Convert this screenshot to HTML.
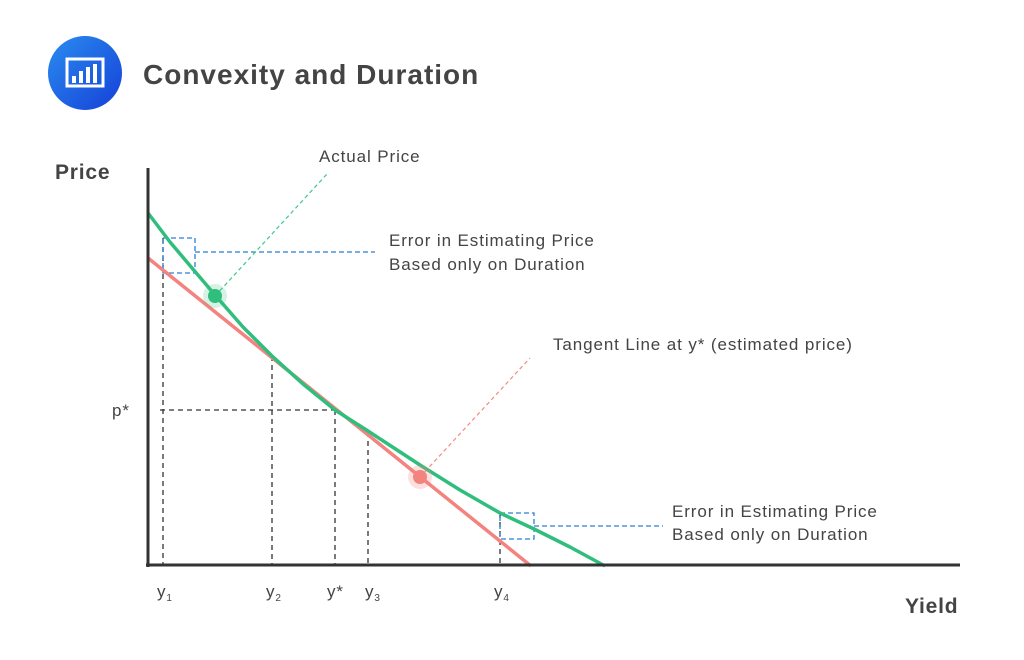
<!DOCTYPE html>
<html><head><meta charset="utf-8"><style>
html,body{margin:0;padding:0;background:#fff;}
svg{display:block;}
text{font-family:"Liberation Sans",sans-serif;fill:#444;}
</style></head><body>
<svg width="1024" height="660" viewBox="0 0 1024 660" xmlns="http://www.w3.org/2000/svg">
<defs>
<linearGradient id="g" x1="0" y1="0" x2="1" y2="1">
<stop offset="0" stop-color="#2a8cf0"/><stop offset="1" stop-color="#1540d8"/>
</linearGradient>
</defs>
<circle cx="85" cy="73" r="37" fill="url(#g)"/>
<rect x="67" y="59" width="36" height="27" fill="none" stroke="#fff" stroke-width="3"/>
<rect x="72" y="76" width="4" height="7" fill="#fff"/>
<rect x="79" y="71" width="4" height="12" fill="#fff"/>
<rect x="86" y="67" width="4" height="16" fill="#fff"/>
<rect x="93" y="64" width="4" height="19" fill="#fff"/>
<text x="143" y="84" font-size="28" font-weight="bold" letter-spacing="1" fill="#444">Convexity and Duration</text>

<text x="55" y="179" font-size="21" font-weight="bold" letter-spacing="0.8">Price</text>
<text x="905" y="613" font-size="21" font-weight="bold" letter-spacing="0.8">Yield</text>

<g stroke="#333" stroke-width="1.3" stroke-dasharray="5,4" fill="none">
<line x1="163" y1="238" x2="163" y2="565"/>
<line x1="272" y1="356" x2="272" y2="565"/>
<line x1="335" y1="410" x2="335" y2="565"/>
<line x1="368" y1="432" x2="368" y2="565"/>
<line x1="500" y1="513" x2="500" y2="565"/>
<line x1="160" y1="410" x2="335" y2="410"/>
</g>
<g stroke="#2a7fd4" stroke-width="1.3" stroke-dasharray="5,3" fill="none">
<rect x="163" y="238" width="32" height="35"/>
<line x1="195" y1="252" x2="375" y2="252"/>
<rect x="500" y="513" width="34" height="26"/>
<line x1="534" y1="526" x2="663" y2="526"/>
</g>
<line x1="215" y1="296" x2="327" y2="174" stroke="#3cc98a" stroke-width="1.2" stroke-dasharray="4,3"/>
<line x1="420" y1="477" x2="530" y2="358" stroke="#f38a85" stroke-width="1.2" stroke-dasharray="4,3"/>

<line x1="148" y1="258" x2="531" y2="566" stroke="#f3837f" stroke-width="3.5"/>
<polyline fill="none" stroke="#2fbe7c" stroke-width="3.5" stroke-linejoin="round"
points="148,213 170,242 192,268 215,295 243,327 272,356 303,384 335,410 368,431 394,448 420,465 460,490 500,513 534,529 570,547 605,566"/>

<circle cx="215" cy="296" r="12" fill="#2fbe7c" opacity="0.2"/>
<circle cx="215" cy="296" r="7" fill="#2fbe7c"/>
<circle cx="420" cy="477" r="12" fill="#f3837f" opacity="0.25"/>
<circle cx="420" cy="477" r="7" fill="#f3837f"/>

<line x1="148" y1="168" x2="148" y2="567" stroke="#333" stroke-width="3"/>
<line x1="146" y1="565" x2="960" y2="565" stroke="#333" stroke-width="3"/>

<g font-size="17" letter-spacing="0.9">
<text x="319" y="162">Actual Price</text>
<text x="389" y="246">Error in Estimating Price</text>
<text x="389" y="270">Based only on Duration</text>
<text x="553" y="350">Tangent Line at y* (estimated price)</text>
<text x="672" y="517">Error in Estimating Price</text>
<text x="672" y="540">Based only on Duration</text>
<text x="112" y="416">p*</text>
<text x="157" y="597">y<tspan font-size="10" dy="4">1</tspan></text>
<text x="266" y="597">y<tspan font-size="10" dy="4">2</tspan></text>
<text x="327" y="597">y*</text>
<text x="365" y="597">y<tspan font-size="10" dy="4">3</tspan></text>
<text x="494" y="597">y<tspan font-size="10" dy="4">4</tspan></text>
</g>
</svg>
</body></html>
